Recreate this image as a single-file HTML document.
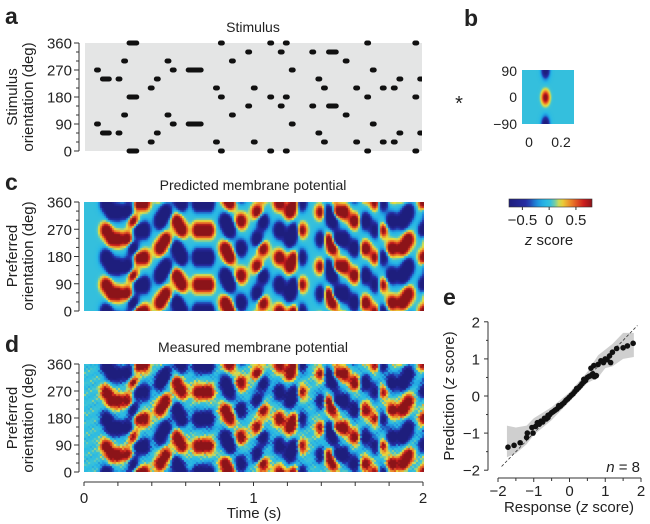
<!DOCTYPE html>
<html><head><meta charset="utf-8">
<style>
body{margin:0;background:#fff;}
#root{position:relative;width:650px;height:524px;overflow:hidden;font-family:"Liberation Sans",sans-serif;color:#222;}
svg{position:absolute;left:0;top:0;}
</style></head>
<body>
<div id="root">
<canvas id="cvC" width="340" height="109" style="position:absolute;left:84px;top:202px"></canvas>
<canvas id="cvD" width="340" height="108" style="position:absolute;left:84px;top:364px"></canvas>
<canvas id="cvB" width="52" height="54" style="position:absolute;left:522px;top:70px"></canvas>
<svg id="svg" width="650" height="524"></svg>
</div>
<script>
// ---- stimulus data (panel a) ----
const stimTimes=[0.059,0.094,0.186,0.219,0.251,0.376,0.412,0.475,0.506,0.600,0.761,0.790,0.855,0.951,0.984,1.081,1.143,1.173,1.208,1.329,1.365,1.398,1.428,1.526,1.588,1.653,1.686,1.745,1.810,1.843,1.937,1.966];
const stimDur=[0.041,0.070,0.041,0.041,0.075,0.041,0.041,0.041,0.041,0.106,0.041,0.041,0.041,0.041,0.041,0.041,0.041,0.041,0.041,0.041,0.041,0.041,0.075,0.041,0.041,0.041,0.041,0.041,0.041,0.041,0.041,0.041];
const stimOri=[90,60,60,120,0,30,60,120,90,90,30,0,120,150,30,0,150,0,90,150,60,30,150,120,30,0,90,30,30,60,0,60];
const oriTicks=[0,90,180,270,360];
const timeTicks=[0,1,2];
const cbTicks=[-0.5,0,0.5];
// ---- panel e data ----
const respX=[-1.72,-1.55,-1.38,-1.2,-1.18,-1.02,-1.05,-0.95,-0.9,-0.85,-0.8,-0.75,-0.7,-0.65,-0.6,-0.55,-0.5,-0.45,-0.4,-0.35,-0.3,-0.25,-0.2,-0.15,-0.1,-0.05,0,0.05,0.1,0.15,0.2,0.25,0.3,0.35,0.4,0.45,0.5,0.55,0.6,0.65,0.7,0.75,0.6,0.68,0.8,0.88,0.95,1.0,1.05,1.12,1.2,1.15,1.32,1.5,1.62,1.78,0.4,-0.6,-0.3,0.2];
const predY=[-1.38,-1.33,-1.26,-1.12,-1.0,-1.0,-0.85,-0.82,-0.72,-0.76,-0.68,-0.7,-0.6,-0.62,-0.52,-0.5,-0.45,-0.42,-0.38,-0.35,-0.3,-0.27,-0.22,-0.18,-0.12,-0.08,-0.03,0.02,0.06,0.12,0.17,0.22,0.27,0.33,0.38,0.42,0.5,0.53,0.55,0.6,0.52,0.55,0.75,0.82,0.85,0.95,0.9,1.0,0.98,1.08,1.18,0.9,1.28,1.3,1.35,1.42,0.45,-0.58,-0.26,0.2];
const bandX=[-1.75,-1.5,-1.2,-1,-0.5,0,0.5,0.8,1,1.2,1.5,1.8];
const bandUp=[-0.8,-0.85,-0.8,-0.6,-0.3,0.1,0.65,1.1,1.25,1.4,1.7,1.7];
const bandLo=[-1.65,-1.55,-1.3,-1.05,-0.65,-0.15,0.35,0.5,0.75,0.8,1.0,1.05];
const eTicks=[-2,-1,0,1,2];

const NS="http://www.w3.org/2000/svg";
const svg=document.getElementById('svg');
function mk(tag,attrs,name,parent){const e=document.createElementNS(NS,tag);for(const k in attrs)e.setAttribute(k,attrs[k]);


(parent||svg).appendChild(e);return e;}
function txt(x,y,s,name,opt){opt=opt||{};const e=mk('text',{x:x,y:y,'font-size':opt.size||14,'text-anchor':opt.anchor||'middle',fill:'#222','font-weight':opt.bold?'bold':'normal'},name);
if(opt.rot)e.setAttribute('transform','rotate(-90 '+x+' '+y+')');e.textContent=s;return e;}

const tx=t=>84+t*169.5;
function oriScale(top,bot){return o=>bot-(o/360)*(bot-top);}

// ---------- colormap ----------
const cmap=[[0,[30,30,125]],[0.22,[38,45,165]],[0.33,[30,140,220]],[0.43,[40,185,230]],[0.52,[60,195,215]],[0.62,[235,225,60]],[0.76,[235,120,40]],[0.9,[205,30,30]],[1,[140,20,25]]];
function cm(v){v=Math.max(0,Math.min(1,v));for(let i=1;i<cmap.length;i++){if(v<=cmap[i][0]){const a=cmap[i-1],b=cmap[i],f=(v-a[0])/(b[0]-a[0]);
 return [0,1,2].map(k=>Math.round(a[1][k]+f*(b[1][k]-a[1][k])));}}return cmap[cmap.length-1][1];}
const zMin=-0.75,zMax=0.8;
function zcol(z){return cm((z-zMin)/(zMax-zMin));}

// ---------- model ----------
function K(l){const d=(l-0.045)/0.028;return Math.exp(-d*d);}
function tune(d){const c=Math.cos(2*d*Math.PI/180);return Math.exp(3*(c-1))-1.0*Math.exp(2.5*(-c-1));}
function respAt(t,phi){let r=0;for(let i=0;i<stimTimes.length;i++){
  let kk=0;const n=4;for(let j=0;j<n;j++){kk+=K(t-(stimTimes[i]+stimDur[i]*(j+0.5)/n));}
  r+=Math.min(1.4,kk/n*stimDur[i]/0.041*1.6)*tune(phi-stimOri[i]);}
 return r;}
function drawHeat(id,texture){const cv=document.getElementById(id),ctx=cv.getContext('2d');
 const W=cv.width,H=cv.height,step=2;
 for(let x=0;x<W;x+=step){const t=x/169.5;
  for(let y=0;y<H;y+=step){const phi=360*(1-y/H);
   let z=respAt(t,phi)*0.9;
   if(texture){z=z*0.9+0.12*Math.sin(t*211+phi*0.37)*Math.sin(phi*0.9+t*37)+0.05*Math.sin(phi*1.7+t*50);}
   const c=zcol(z);ctx.fillStyle='rgb('+c[0]+','+c[1]+','+c[2]+')';ctx.fillRect(x,y,step,step);}}}
drawHeat('cvC',false);
drawHeat('cvD',true);
// panel b kernel map
(function(){const cv=document.getElementById('cvB'),ctx=cv.getContext('2d');
 for(let x=0;x<52;x++){const lag=-0.044+x/160;for(let y=0;y<54;y++){const d=90-y*180/54;
  const dd=(lag-0.1)/0.025;const z=Math.exp(-dd*dd)*tune(d)*0.9;const c=zcol(z);ctx.fillStyle='rgb('+c[0]+','+c[1]+','+c[2]+')';ctx.fillRect(x,y,1,1);}}})();

// ---------- panel a ----------
txt(5,24,'a','panel-label-a',{size:23,bold:true,anchor:'start'});
txt(253,32,'Stimulus','stimulus-title',{size:14});
mk('rect',{x:85,y:43,width:337,height:108,fill:'#e4e5e5'},'stimulus-background');
const ya=oriScale(43,151);
const defs=mk('defs',{},'defs');const cp=mk('clipPath',{id:'clipA'},'clip-a',defs);mk('rect',{x:85,y:40,width:337,height:115},'clip-rect',cp);
const gA=mk('g',{'clip-path':'url(#clipA)'},'stimulus-bars');
stimTimes.forEach((t,i)=>{const o=stimOri[i];const levels=o===0?[0,180,360]:[o,o+180];
 levels.forEach(l=>{mk('rect',{x:tx(t),y:ya(l)-2.5,width:stimDur[i]*169.5,height:5,rx:2.5,fill:'#111'},'stimulus-bar',gA);});});
function oriAxis(top,bot,prefix){const sc=oriScale(top,bot);mk('line',{x1:79,y1:top,x2:79,y2:bot,stroke:'#333','stroke-width':1},prefix+'-y-axis');
 for(let o=0;o<=360;o+=30){mk('line',{x1:o%90===0?74:76,y1:sc(o),x2:79,y2:sc(o),stroke:'#333'},prefix+'-y-tick');}
 oriTicks.forEach(o=>txt(72,sc(o)+5.5,String(o),prefix+'-y-tick-label',{size:15,anchor:'end'}));}
oriAxis(43,151,'stimulus');
txt(17,97,'Stimulus','stimulus-y-title-1',{size:15,rot:true});
txt(33,97,'orientation (deg)','stimulus-y-title-2',{size:15,rot:true});

// ---------- panel c ----------
txt(5,190,'c','panel-label-c',{size:23,bold:true,anchor:'start'});
txt(253,190,'Predicted membrane potential','predicted-title',{size:14});
oriAxis(202,311,'predicted');
txt(17,256,'Preferred','predicted-y-title-1',{size:15,rot:true});
txt(33,256,'orientation (deg)','predicted-y-title-2',{size:15,rot:true});

// ---------- panel d ----------
txt(5,352,'d','panel-label-d',{size:23,bold:true,anchor:'start'});
txt(253,352,'Measured membrane potential','measured-title',{size:14});
oriAxis(364,472,'measured');
txt(17,418,'Preferred','measured-y-title-1',{size:15,rot:true});
txt(33,418,'orientation (deg)','measured-y-title-2',{size:15,rot:true});
mk('line',{x1:tx(0),y1:482,x2:tx(2),y2:482,stroke:'#333'},'time-axis');
for(let t=0;t<=2.001;t+=0.2){mk('line',{x1:tx(t),y1:482,x2:tx(t),y2:486,stroke:'#333'},'time-tick');}
timeTicks.forEach(t=>txt(tx(t),503,String(t),'time-tick-label',{size:15}));
txt(254,518,'Time (s)','time-axis-title',{size:15});

// ---------- panel b ----------
txt(471,26,'b','panel-label-b',{size:23,bold:true});
txt(459,110,'*','asterisk',{size:20});
txt(517,76,'90','b-y-label-90',{size:14,anchor:'end'});
txt(517,102,'0','b-y-label-0',{size:14,anchor:'end'});
txt(517,129,'\u221290','b-y-label-neg90',{size:14,anchor:'end'});
txt(529,147,'0','b-x-label-0',{size:14});
txt(561,147,'0.2','b-x-label-0.2',{size:14});

// ---------- colorbar ----------
const gr=mk('linearGradient',{id:'cmg',x1:0,x2:1,y1:0,y2:0},'colormap-gradient',defs);
for(let i=0;i<=20;i++){const c=cm(i/20);mk('stop',{offset:i/20,'stop-color':'rgb('+c+')'},'gradient-stop',gr);}
mk('rect',{x:509,y:199,width:83,height:8,fill:'url(#cmg)',stroke:'#333','stroke-width':0.6},'colorbar');
const cbx=z=>509+(z-zMin)/(zMax-zMin)*83;
cbTicks.forEach(z=>{mk('line',{x1:cbx(z),y1:207,x2:cbx(z),y2:210,stroke:'#333'},'colorbar-tick');
 txt(cbx(z),225,z===0?'0':(z<0?'\u22120.5':'0.5'),'colorbar-tick-label',{size:15});});
const zs=txt(549,245,'','colorbar-title',{size:15});
zs.innerHTML='<tspan font-style="italic">z</tspan> score';

// ---------- panel e ----------
txt(443,305,'e','panel-label-e',{size:23,bold:true,anchor:'start'});
const ex=v=>569.5+v*35.75, ey=v=>396-v*37.1;
let pts=bandX.map((x,i)=>ex(x)+','+ey(bandUp[i]));
pts=pts.concat(bandX.slice().reverse().map((x,i)=>ex(x)+','+ey(bandLo[bandX.length-1-i])));
mk('polygon',{points:pts.join(' '),fill:'#cfcfcf'},'confidence-band');
mk('line',{x1:ex(-1.9),y1:ey(-1.9),x2:ex(1.9),y2:ey(1.9),stroke:'#333','stroke-width':0.8,'stroke-dasharray':'3,2'},'identity-line');
respX.forEach((x,i)=>mk('circle',{cx:ex(x),cy:ey(predY[i]),r:2.8,fill:'#111'},'scatter-point'));
mk('line',{x1:488,y1:ey(2),x2:488,y2:ey(-2),stroke:'#333'},'e-y-axis');
mk('line',{x1:ex(-2),y1:478,x2:ex(2),y2:478,stroke:'#333'},'e-x-axis');
for(let v=-2;v<=2.001;v+=0.5){mk('line',{x1:488,y1:ey(v),x2:v%1===0?484:486,y2:ey(v),stroke:'#333'},'e-y-tick');
 mk('line',{x1:ex(v),y1:478,x2:ex(v),y2:v%1===0?482:481,stroke:'#333'},'e-x-tick');}
eTicks.forEach(v=>{const s=v<0?'\u2212'+(-v):String(v);
 txt(480,ey(v)+5.5,s,'e-y-tick-label',{size:15,anchor:'end'});
 txt(ex(v),496,s,'e-x-tick-label',{size:15});});
const xt=txt(569,512,'','e-x-title',{size:15});xt.innerHTML='Response (<tspan font-style="italic">z</tspan> score)';
const yt=txt(454,396,'','e-y-title',{size:15,rot:true});yt.innerHTML='Prediction (<tspan font-style="italic">z</tspan> score)';
const nt=txt(640,472,'','n-label',{size:15,anchor:'end'});nt.innerHTML='<tspan font-style="italic">n</tspan> = 8';
</script>
</body></html>
